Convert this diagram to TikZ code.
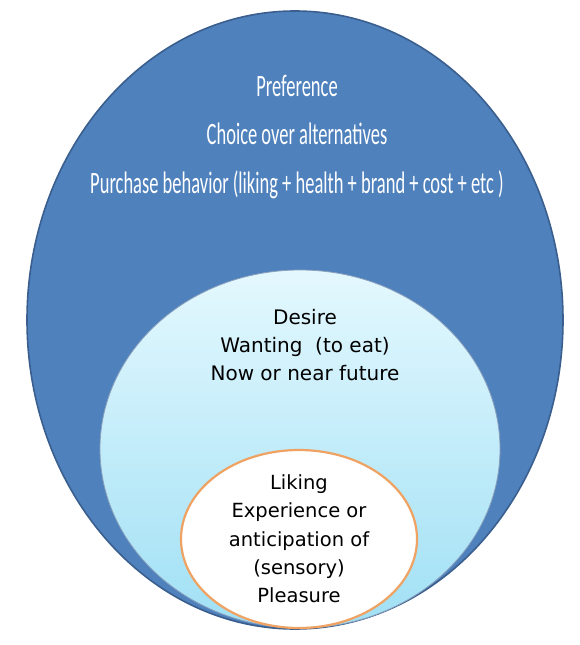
\documentclass[tikz,border=0pt]{standalone}
\usepackage{fontspec}
\setmainfont{DejaVu Sans}
\newfontfamily\calibrifont{Carlito}
\usepackage{tikz}
\definecolor{outerBlue}{HTML}{4F81BD}
\definecolor{edgeBlue}{HTML}{3A5F8E}
\definecolor{paleCyan}{HTML}{E4F8FE}
\definecolor{deepCyan}{HTML}{A0E0F5}
\definecolor{likingOrange}{HTML}{EFA262}

\begin{document}
\begin{tikzpicture}[x=1pt,y=-1pt,
  lbl/.style={align=center,inner sep=0pt}]
\useasboundingbox (0,0) rectangle (580,645);
% dis elips: preference
\filldraw[fill=outerBlue,draw=edgeBlue,line width=1.6pt] (295,320) ellipse (268 and 309);
% ara elips: desire
\shade[top color=paleCyan,bottom color=deepCyan] (300,449) ellipse (200 and 179);
\draw[edgeBlue!60,line width=0.8pt] (300,449) ellipse (200 and 179);
% ic elips: liking
\filldraw[fill=white,draw=likingOrange,line width=2.2pt] (299,539) ellipse (118 and 89);
\node[lbl,text=white,yscale=1.68,font=\calibrifont\fontsize{18.5}{28.6}\selectfont] (pref) at (297,137)
  {Preference\\Choice over alternatives\\Purchase behavior (liking + health + brand + cost + etc )};
\node[lbl,font=\fontsize{20}{28}\selectfont] (desire) at (305,345)
  {Desire\\Wanting~~(to eat)\\Now or near future};
\node[lbl,font=\fontsize{19.5}{28.3}\selectfont] (liking) at (299,539)
  {Liking\\Experience or\\anticipation of\\(sensory)\\Pleasure};
\end{tikzpicture}
\end{document}
